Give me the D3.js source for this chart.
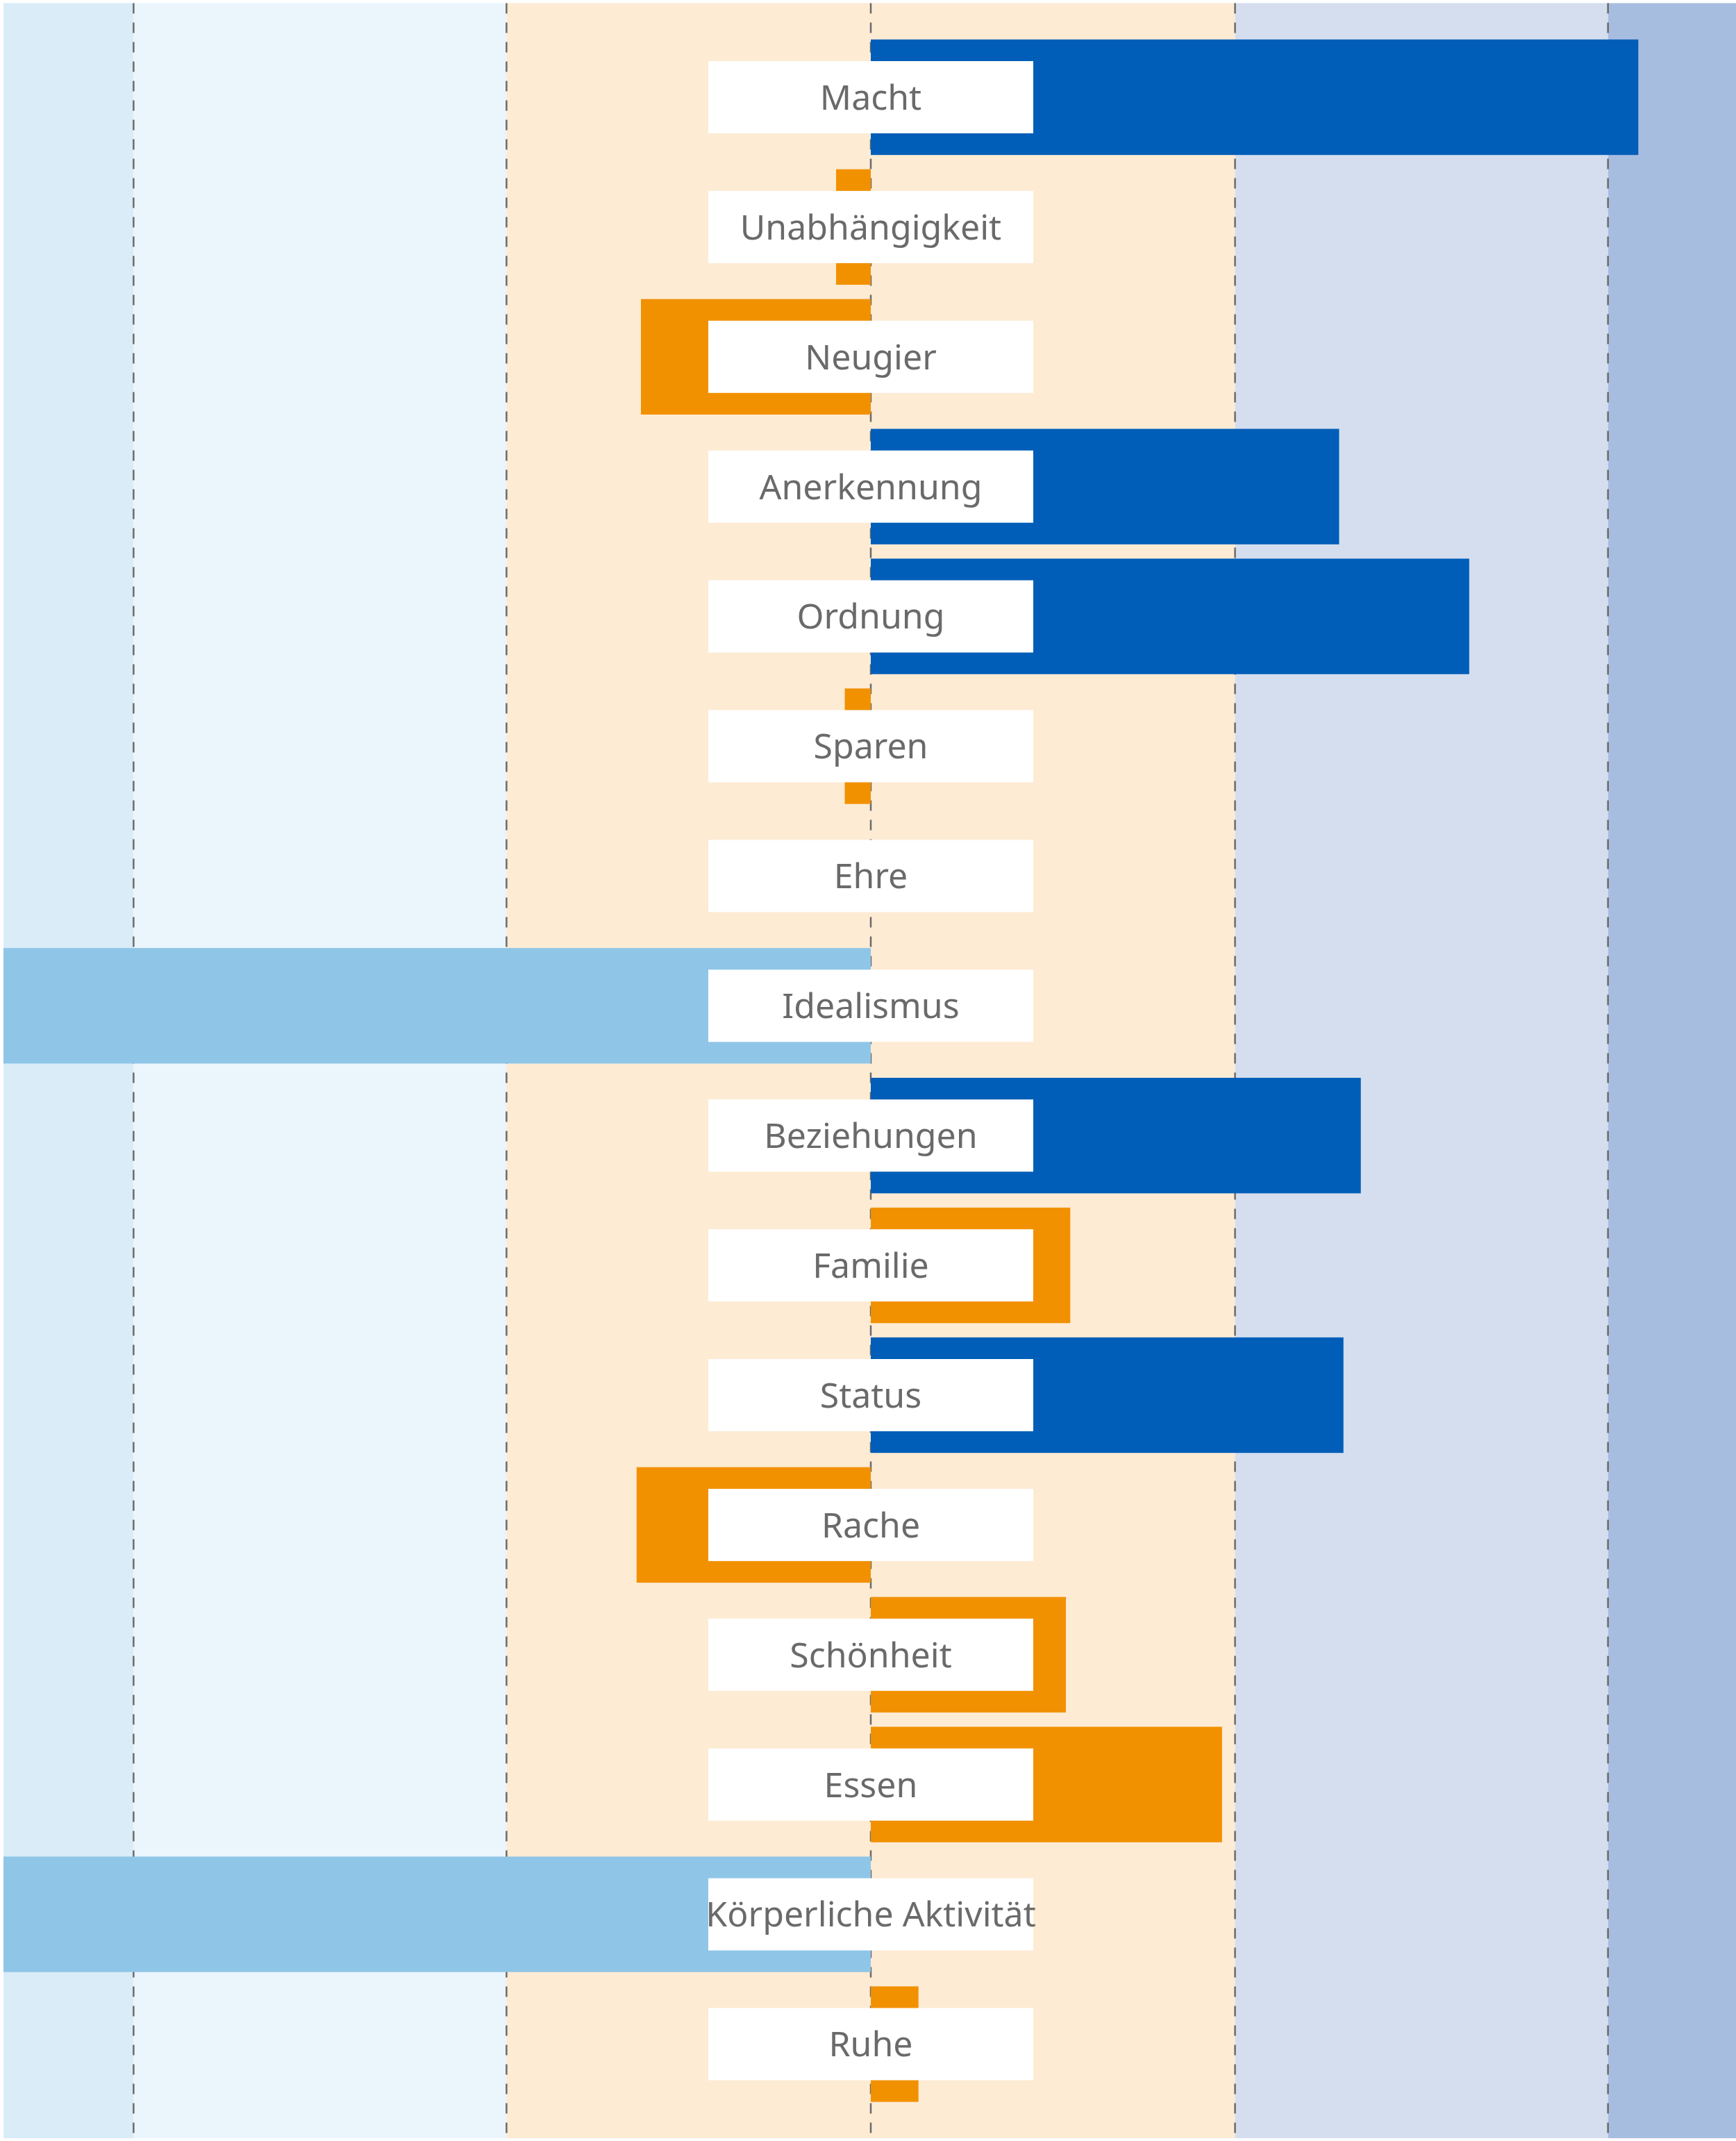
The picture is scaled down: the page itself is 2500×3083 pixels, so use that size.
<!DOCTYPE html>
<html>
<head>
<meta charset="utf-8">
<script src="https://cdn.jsdelivr.net/npm/d3@7"></script>
<style>
  body { margin: 0; background: #fff; }
</style>
</head>
<body>
<div class="motive-chart"></div>
<script>
// motives (top to bottom) and their scores, scale -2 .. 2
const motives = ["Macht", "Unabhängigkeit", "Neugier", "Anerkennung", "Ordnung", "Sparen", "Ehre",
    "Idealismus", "Beziehungen", "Familie", "Status", "Rache", "Schönheit", "Essen",
    "Körperliche Aktivität", "Ruhe"];
const scores = [1.77, -0.08, -0.53, 1.08, 1.38, -0.06, 0, -2, 1.13, 0.46, 1.09, -0.54, 0.45, 0.81, -2, 0.11];

// background zones and the dashed lines between them
const zoneEdges = [-2, -1.7, -0.84, 0.84, 1.7, 2];
const zoneColors = ["#d9ecf8", "#eaf5fc", "#fdebd4", "#d4deef", "#a7bde0"];
const gridValues = [-1.7, -0.84, 0, 0.84, 1.7];

const data = motives.map((m, i) => ({ motive: m, score: scores[i] }));

const width = 2500;
const height = 3083;

const svg = d3.select(".motive-chart")
    .append("svg")
    .attr("width", width)
    .attr("height", height);

const x = d3.scaleLinear()
    .domain([-2, 2])
    .range([5, 2503]);

const y = d3.scaleBand()
    .domain(motives)
    .range([4.5, 3079])
    .paddingInner(0.11)
    .paddingOuter(0.28);

const barColor = d3.scaleThreshold()
    .domain([-0.84, 0.84])
    .range(["#8fc6e8", "#f29100", "#005eb8"]);

// zones
svg.selectAll("rect.zone")
    .data(zoneColors)
    .enter()
    .append("rect")
    .attr("class", "zone")
    .attr("x", (d, i) => x(zoneEdges[i]))
    .attr("width", (d, i) => x(zoneEdges[i + 1]) - x(zoneEdges[i]))
    .attr("y", 4.5)
    .attr("height", 3079 - 4.5)
    .attr("fill", d => d);

// dashed lines
svg.selectAll("line.grid")
    .data(gridValues)
    .enter()
    .append("line")
    .attr("class", "grid")
    .attr("x1", d => x(d))
    .attr("x2", d => x(d))
    .attr("y1", 4.5)
    .attr("y2", 3079)
    .attr("stroke", "#6b6b6b")
    .attr("stroke-width", 2.5)
    .attr("stroke-dasharray", "15,13");

// bars
svg.selectAll("rect.bar")
    .data(data)
    .enter()
    .append("rect")
    .attr("class", "bar")
    .attr("x", d => x(Math.min(0, d.score)))
    .attr("width", d => Math.abs(x(d.score) - x(0)))
    .attr("y", d => y(d.motive))
    .attr("height", y.bandwidth())
    .attr("fill", d => barColor(d.score));

// label boxes
const boxW = 468;
const boxH = 104;
svg.selectAll("rect.label-box")
    .data(data)
    .enter()
    .append("rect")
    .attr("class", "label-box")
    .attr("x", x(0) - boxW / 2)
    .attr("width", boxW)
    .attr("y", d => y(d.motive) + y.bandwidth() / 2 - boxH / 2)
    .attr("height", boxH)
    .attr("fill", "#fff");

// labels
const fontSize = 50;
svg.selectAll("text.label")
    .data(data)
    .enter()
    .append("text")
    .attr("class", "label")
    .text(d => d.motive)
    .attr("x", x(0))
    .attr("y", d => y(d.motive) + y.bandwidth() / 2 + fontSize * 0.357)
    .attr("text-anchor", "middle")
    .attr("font-family", "'Noto Sans', 'Open Sans', sans-serif")
    .attr("font-size", fontSize)
    .attr("fill", "#6a6a6a");
</script>
</body>
</html>
